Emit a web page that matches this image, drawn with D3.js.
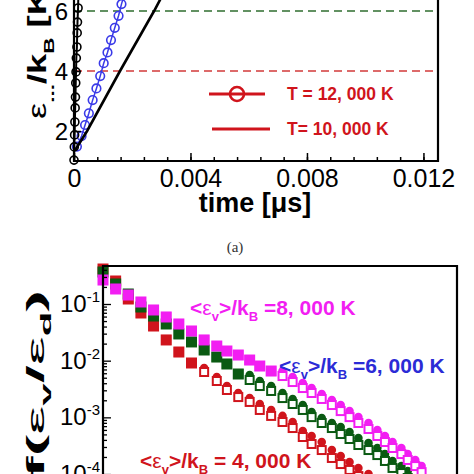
<!DOCTYPE html>
<html>
<head>
<meta charset="utf-8">
<script src="https://cdn.jsdelivr.net/npm/d3@7"></script>
<style>
  body { margin: 0; background: #fff; }
  svg { display: block; font-family: "Liberation Sans", Arial, Helvetica, sans-serif; }
</style>
</head>
<body>
<div id="chart"></div>
<script>
// ---------- panel (a): energy vs time ----------
const t12k  = [0, 0.00001, 0.00002, 0.00003, 0.00004, 0.00005, 0.00006, 0.00007, 0.00008, 0.0001, 0.00011, 0.00012, 0.00014, 0.00015];
const e12k  = [1.03, 1.47, 1.87, 2.3, 2.77, 3.13, 3.6, 3.97, 4.43, 4.8, 5.27, 5.63, 6.1, 6.55];
const tBlue = [0.0001, 0.00026, 0.00038, 0.00051, 0.00064, 0.00077, 0.0009, 0.00102, 0.00115, 0.00127, 0.0014, 0.00153, 0.00163, 0.00175];
const eBlue = [1.48, 1.83, 2.2, 2.59, 3.03, 3.42, 3.83, 4.26, 4.62, 5.03, 5.44, 5.84, 6.23, 6.62];
const t10k  = [0.00003, 0.00045, 0.00158, 0.00275, 0.0033];
const e10k  = [1.35, 2, 4, 6, 7];
const levels      = [4, 6];
const levelColors = ['#d23a3a', '#2f6e2f'];
const xTicksTop   = [0, 0.004, 0.008, 0.012];
const yTicksTop   = [2, 4, 6];
const legendTop   = ['T = 12, 000 K', 'T= 10, 000 K'];

// ---------- panel (b): distributions ----------
const binX = [0, 0.05, 0.10, 0.15, 0.20, 0.25, 0.30, 0.35, 0.40, 0.45, 0.49, 0.535, 0.58, 0.62, 0.665, 0.71,
              0.75, 0.79, 0.825, 0.865, 0.905, 0.94, 0.975, 1.01, 1.05, 1.085, 1.115, 1.145, 1.18, 1.205, 1.235, 1.26];
const magOpen = [0.265, 0.184, 0.144, 0.1085, 0.0784, 0.059, 0.0444, 0.0334, 0.0232, 0.01815, 0.01481, 0.01259, 0.01027, 0.00805, 0.00657,
                 0.00536, 0.0042, 0.00329, 0.00269, 0.00211, 0.00165, 0.00129, 0.00101, 0.000795, 0.000623, 0.000469, 0.000367,
                 0.000288, 0.000225, 0.000177, 0.000138, 0.000108];
const magCirc = [0.265, 0.184, 0.144, 0.1085, 0.0784, 0.059, 0.0444, 0.0334, 0.0232, 0.01815, 0.01481, 0.01259, 0.01027, 0.00805, 0.00657,
                 0.00657, 0.00515, 0.00404, 0.00329, 0.00258, 0.00202, 0.00165, 0.00129, 0.00101, 0.000795, 0.000598, 0.000469,
                 0.000367, 0.000288, 0.000225, 0.000177, 0.000138];
const magFill = [0.265, 0.184, 0.144, 0.1085, 0.0784, 0.059, 0.0444, 0.0334, 0.0232, 0.01815, 0.01481, 0.01259, 0.01027, 0.00805, 0.00657];
const grnOpen = [0.367, 0.2254, 0.1501, 0.0885, 0.0614, 0.0444, 0.0296, 0.0214, 0.01543, 0.0116, 0.00874, 0.00582, 0.00456, 0.00357, 0.00292,
                 0.00219, 0.00172, 0.00135, 0.00101, 0.000795, 0.000648, 0.000508, 0.000415, 0.000325, 0.000265, 0.000216,
                 0.00017, 0.000128, 0.000104, 0.000085];
const grnCirc = [0.367, 0.2254, 0.1501, 0.0885, 0.0614, 0.0444, 0.0296, 0.0214, 0.01543, 0.0116, 0.00874, 0.00582, 0.00559, 0.00438, 0.00357,
                 0.00269, 0.00211, 0.00165, 0.00124, 0.000974, 0.000795, 0.000675, 0.000551, 0.000432, 0.000353, 0.000288,
                 0.000225, 0.00017, 0.000138, 0.000113];
const grnFill = [0.367, 0.2254, 0.1501, 0.0885, 0.0614, 0.0444, 0.0296, 0.0214, 0.01543, 0.0116, 0.00874, 0.00582];
const redOpen = [0.4145, 0.2546, 0.1225, 0.0694, 0.0409, 0.0232, 0.01422, 0.0091, 0.00631, 0.00438, 0.00304, 0.00228, 0.00187, 0.00135,
                 0.00106, 0.000828, 0.000648, 0.00045, 0.000339, 0.000265, 0.000192, 0.00015, 0.000118, 0.000092, 0.000072];
const redCirc = [0.4145, 0.2546, 0.1225, 0.0694, 0.0409, 0.0232, 0.01422, 0.0091, 0.00742, 0.00515, 0.00357, 0.00269, 0.00219, 0.00172,
                 0.00135, 0.00106, 0.000828, 0.000574, 0.000469, 0.000367, 0.000265, 0.000208, 0.000163, 0.000128, 0.0001];
const redFill = [0.4145, 0.2546, 0.1225, 0.0694, 0.0409, 0.0232, 0.01422, 0.0091];
const decades = [1e-1, 1e-2, 1e-3, 1e-4];

const MAG = '#f21ef2', GRN = '#0a5a12', RED = '#d0141c', BLUE = '#2b2bd6';

const svg = d3.select('#chart').append('svg').attr('width', 474).attr('height', 474);

// ===== top panel =====
const xT = d3.scaleLinear().domain([0, 0.0125]).range([74, 438]);
const yT = d3.scaleLinear().domain([1, 8]).range([161, -49]);
const panelA = svg.append('g');

levels.forEach((lv, i) => {
  panelA.append('line')
    .attr('x1', xT(0)).attr('x2', xT(0.0125))
    .attr('y1', yT(lv)).attr('y2', yT(lv))
    .attr('stroke', levelColors[i]).attr('stroke-width', 1.6)
    .attr('stroke-dasharray', '8,5');
});

const lineT = d3.line().x(d => xT(d[0])).y(d => yT(d[1]));
const bluePts = tBlue.map((t, i) => [t, eBlue[i]]);
panelA.append('path').datum(bluePts).attr('d', lineT)
  .attr('fill', 'none').attr('stroke', '#3a3ae8').attr('stroke-width', 1.5);
panelA.selectAll('.bc').data(bluePts).enter().append('circle')
  .attr('cx', d => xT(d[0])).attr('cy', d => yT(d[1])).attr('r', 4.3)
  .attr('fill', 'none').attr('stroke', '#3a3ae8').attr('stroke-width', 1.6);

const p10 = t10k.map((t, i) => [t, e10k[i]]);
panelA.append('path').datum(p10).attr('d', lineT)
  .attr('fill', 'none').attr('stroke', '#000').attr('stroke-width', 2.6);

const p12 = t12k.map((t, i) => [t, e12k[i]]);
panelA.append('path').datum(p12).attr('d', lineT)
  .attr('fill', 'none').attr('stroke', '#000').attr('stroke-width', 2);
panelA.selectAll('.kc').data(p12).enter().append('circle')
  .attr('cx', d => xT(d[0])).attr('cy', d => yT(d[1])).attr('r', 4)
  .attr('fill', 'none').attr('stroke', '#000').attr('stroke-width', 1.6);

// axes (ticks point inward)
const xAxT = panelA.append('g').attr('transform', `translate(0,${yT(1)})`)
  .call(d3.axisBottom(xT).tickValues(xTicksTop).tickSize(-8).tickSizeOuter(0).tickPadding(8)
    .tickFormat(d => d === 0 ? '0' : d3.format('.3f')(d)));
panelA.append('g').attr('transform', `translate(0,${yT(1)})`)
  .call(d3.axisBottom(xT).tickValues(d3.range(0, 0.0125, 0.0008)).tickSize(-4).tickSizeOuter(0).tickFormat(''));
const yAxT = panelA.append('g').attr('transform', `translate(${xT(0)},0)`)
  .call(d3.axisLeft(yT).tickValues(yTicksTop).tickSize(-7).tickSizeOuter(0).tickPadding(6)
    .tickFormat(d3.format('d')));
panelA.selectAll('.domain').remove();
panelA.selectAll('.tick line').attr('stroke', '#000').attr('stroke-width', 1.5);
xAxT.selectAll('text').attr('font-size', 25).attr('fill', '#000');
yAxT.selectAll('text').attr('font-size', 24).attr('fill', '#000').attr('dy', '0.36em');

panelA.append('path')
  .attr('d', `M${xT(0)},-5V${yT(1)}H${xT(0.0125)}V-5`)
  .attr('fill', 'none').attr('stroke', '#000').attr('stroke-width', 2.2);

// legend
const legY = [94, 129];
panelA.append('line').attr('x1', 209).attr('x2', 265).attr('y1', legY[0]).attr('y2', legY[0])
  .attr('stroke', RED).attr('stroke-width', 3);
panelA.append('circle').attr('cx', 237).attr('cy', legY[0]).attr('r', 7)
  .attr('fill', 'none').attr('stroke', RED).attr('stroke-width', 2.6);
panelA.append('line').attr('x1', 212).attr('x2', 270).attr('y1', legY[1]).attr('y2', legY[1])
  .attr('stroke', RED).attr('stroke-width', 3);
legendTop.forEach((s, i) => {
  panelA.append('text').attr('x', 287).attr('y', legY[i] + 6)
    .attr('font-size', 17.5).attr('font-weight', 'bold').attr('fill', RED).text(s);
});

// axis titles
panelA.append('text').attr('x', 255).attr('y', 212).attr('text-anchor', 'middle')
  .attr('font-size', 27).attr('font-weight', 'bold').text('time [\u03bcs]');

function richText(g, parts, size) {
  // parts: [string, kind] with kind '' | 'sub' | 'eps'
  let off = 0;
  parts.forEach(([s, kind]) => {
    const ts = g.append('tspan').text(s);
    let target = 0;
    if (kind === 'sub') { target = size * 0.3; ts.attr('font-size', size * 0.62); }
    if (kind === 'eps') ts.attr('font-weight', 'normal');
    ts.attr('dy', target - off);
    off = target;
  });
}

const yLabT = panelA.append('text').attr('transform', 'translate(46,119) rotate(-90)')
  .attr('font-size', 25).attr('font-weight', 'bold').attr('fill', '#000')
  .attr('textLength', 142).attr('lengthAdjust', 'spacingAndGlyphs');
richText(yLabT, [['\u03b5', 'eps'], ['...', 'sub'], ['/k', ''], ['B', 'sub'], [' [K]', '']], 25);

svg.append('text').attr('x', 235).attr('y', 252).attr('text-anchor', 'middle')
  .attr('font-family', '"Liberation Serif", "Times New Roman", serif')
  .attr('font-size', 15).attr('fill', '#333').text('(a)');

// ===== bottom panel =====
const xB = d3.scaleLinear().domain([0, 1.4]).range([103, 457]);
const yB = d3.scaleLog().domain([Math.pow(10, -0.3295), 1e-5]).range([266, 530.7]);
const panelB = svg.append('g');

const sets = [
  { c: RED, open: redOpen, circ: redCirc, fill: redFill },
  { c: GRN, open: grnOpen, circ: grnCirc, fill: grnFill },
  { c: MAG, open: magOpen, circ: magCirc, fill: magFill }
];
sets.forEach(s => {
  panelB.selectAll(null).data(s.circ).enter().append('circle')
    .attr('cx', (d, i) => xB(binX[i])).attr('cy', d => yB(d)).attr('r', 4.3).attr('fill', s.c);
});
sets.forEach(s => {
  panelB.selectAll(null).data(s.open).enter().append('rect')
    .attr('x', (d, i) => xB(binX[i]) - 4).attr('y', d => yB(d) - 4)
    .attr('width', 8).attr('height', 8)
    .attr('fill', '#fff').attr('stroke', s.c).attr('stroke-width', 2);
});
sets.forEach(s => {
  panelB.selectAll(null).data(s.fill).enter().append('rect')
    .attr('x', (d, i) => xB(binX[i]) - 5.5).attr('y', d => yB(d) - 5.5)
    .attr('width', 11).attr('height', 11).attr('fill', s.c);
});

const minors = [];
[1, 0.1, 0.01, 0.001, 0.0001].forEach(dec => {
  for (let m = 2; m <= 9; m++) if (dec * m / 10 < 0.46) minors.push(dec * m / 10);
});
panelB.append('g').attr('transform', `translate(${xB(0)},0)`)
  .call(d3.axisLeft(yB).tickValues(decades).tickSize(-8).tickSizeOuter(0).tickFormat(''));
panelB.append('g').attr('transform', `translate(${xB(0)},0)`)
  .call(d3.axisLeft(yB).tickValues(minors).tickSize(-4).tickSizeOuter(0).tickFormat(''));
panelB.selectAll('.domain').remove();
panelB.selectAll('.tick line').attr('stroke', '#000').attr('stroke-width', 1.3);

decades.forEach(v => {
  const t = panelB.append('text').attr('x', 100).attr('y', yB(v) + 8)
    .attr('text-anchor', 'end').attr('font-size', 24).attr('fill', '#000');
  t.append('tspan').text('10');
  t.append('tspan').attr('dy', -10).attr('font-size', 15).text(String(Math.round(Math.log10(v))));
});

panelB.append('path')
  .attr('d', `M${xB(0)},480V266H${xB(1.4)}V480`)
  .attr('fill', 'none').attr('stroke', '#000').attr('stroke-width', 2.2);

const yLabB = panelB.append('text').attr('transform', 'translate(44,478) rotate(-90)')
  .attr('font-size', 24).attr('font-weight', 'bold').attr('fill', '#000')
  .attr('textLength', 188).attr('lengthAdjust', 'spacingAndGlyphs');
richText(yLabB, [['f(', ''], ['\u03b5', 'eps'], ['v', 'sub'], ['/', ''], ['\u03b5', 'eps'], ['d', 'sub'], [')', '']], 24);

const labels = [
  { x: 190, y: 315, c: MAG, tail: ' =8, 000 K' },
  { x: 279, y: 373, c: BLUE, tail: ' =6, 000 K' },
  { x: 140, y: 468, c: RED, tail: ' = 4, 000 K' }
];
labels.forEach(l => {
  const t = panelB.append('text').attr('x', l.x).attr('y', l.y)
    .attr('font-size', 21).attr('font-weight', 'bold').attr('fill', l.c);
  richText(t, [['<', ''], ['\u03b5', 'eps'], ['v', 'sub'], ['>/k', ''], ['B', 'sub'], [l.tail, '']], 21);
});
</script>
</body>
</html>
